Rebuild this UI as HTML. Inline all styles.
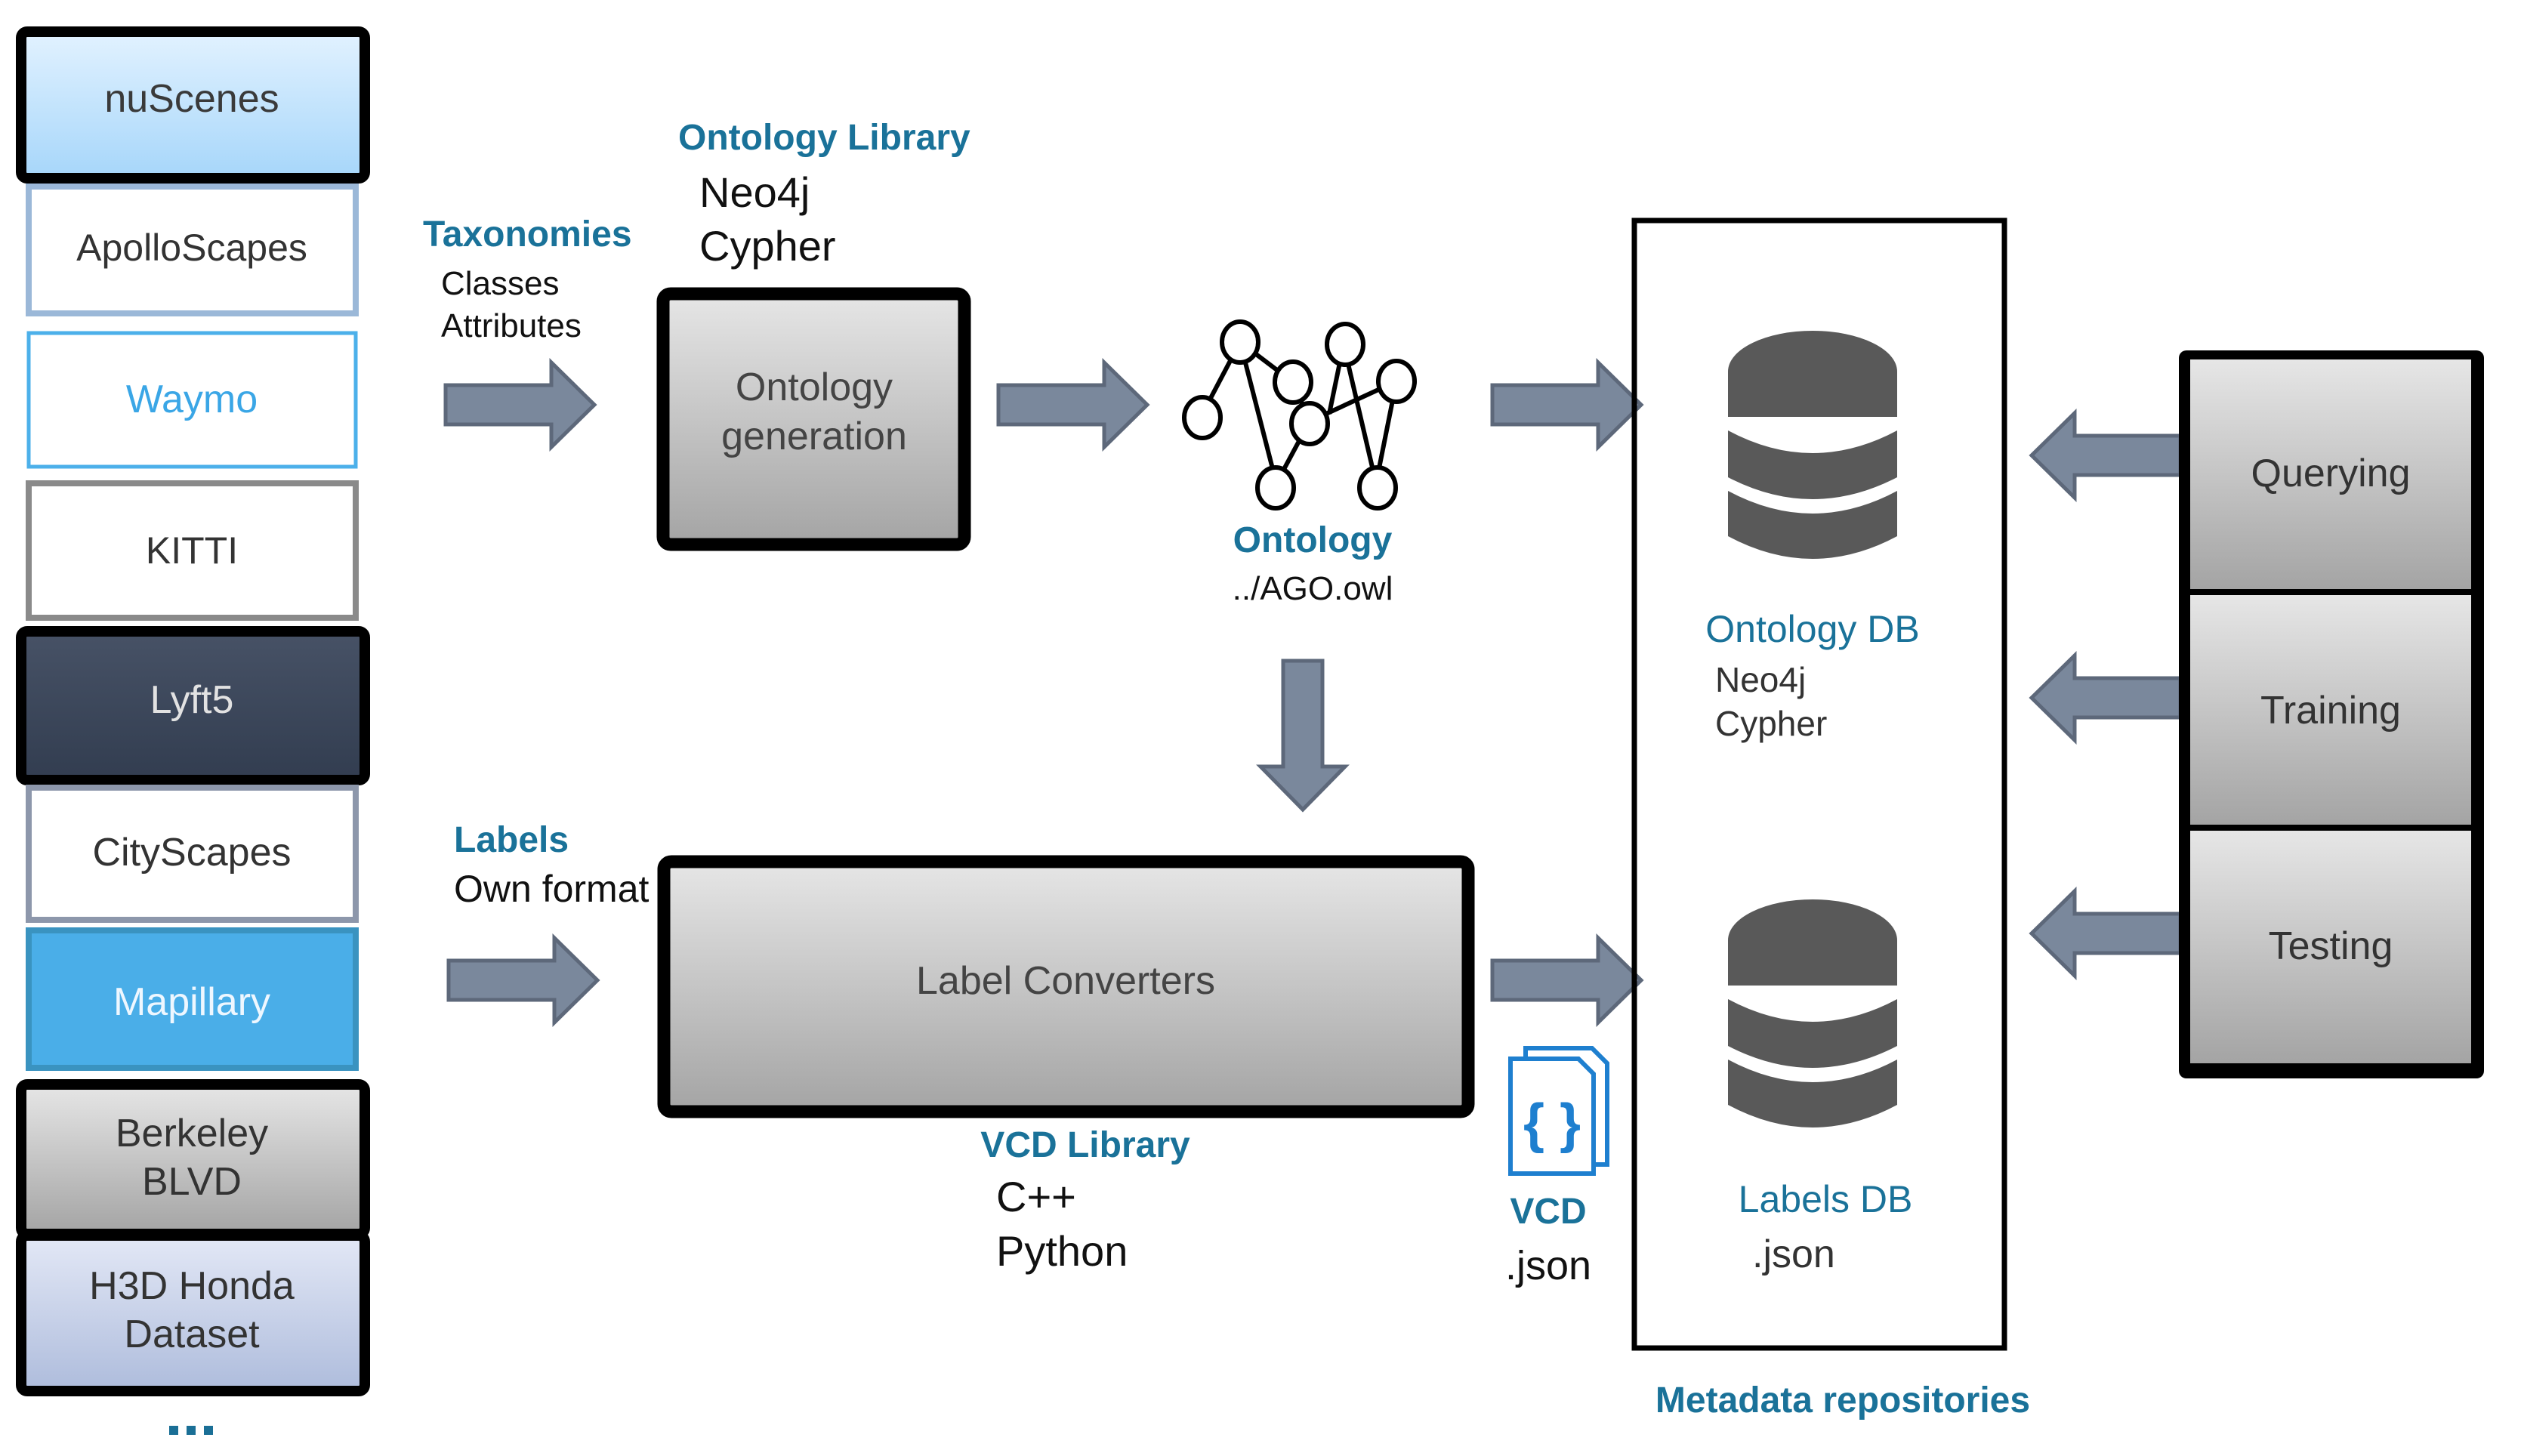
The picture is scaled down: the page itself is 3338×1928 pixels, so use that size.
<!DOCTYPE html>
<html><head><meta charset="utf-8"><style>
html,body{margin:0;padding:0;background:#fff;}
svg{display:block;}
text{font-family:"Liberation Sans","DejaVu Sans",sans-serif;}
</style></head><body>
<svg width="3338" height="1928" viewBox="0 0 3338 1928" xmlns="http://www.w3.org/2000/svg">
<defs>
<linearGradient id="gBlue" x1="0" y1="0" x2="0" y2="1"><stop offset="0" stop-color="#e2f2ff"/><stop offset="1" stop-color="#a6d6fa"/></linearGradient>
<linearGradient id="gDark" x1="0" y1="0" x2="0" y2="1"><stop offset="0" stop-color="#475266"/><stop offset="1" stop-color="#323d50"/></linearGradient>
<linearGradient id="gGray" x1="0" y1="0" x2="0" y2="1"><stop offset="0" stop-color="#e6e6e6"/><stop offset="1" stop-color="#a4a4a4"/></linearGradient>
<linearGradient id="gLav" x1="0" y1="0" x2="0" y2="1"><stop offset="0" stop-color="#e3e8f6"/><stop offset="1" stop-color="#aebcdc"/></linearGradient>
<g id="arrR"><path d="M0,-26 L140,-26 L140,-56 L197,0 L140,56 L140,26 L0,26 Z" fill="#7a889c" stroke="#5d687a" stroke-width="5"/></g>
</defs>

<!-- left column -->
<rect x="28" y="42" width="455" height="194" rx="8" fill="url(#gBlue)" stroke="#000" stroke-width="14"/>
<text x="254" y="148" font-size="52" fill="#3a3a3a" text-anchor="middle">nuScenes</text>
<rect x="38" y="247" width="433" height="168" fill="#fff" stroke="#9bb8d8" stroke-width="8"/>
<text x="254" y="345" font-size="50" fill="#333" text-anchor="middle">ApolloScapes</text>
<rect x="38" y="441" width="433" height="177" fill="#fff" stroke="#4cb0ea" stroke-width="5"/>
<text x="254" y="546" font-size="52" fill="#3aa6e6" text-anchor="middle">Waymo</text>
<rect x="38" y="640" width="433" height="178" fill="#fff" stroke="#8a8a8a" stroke-width="8"/>
<text x="254" y="746" font-size="50" fill="#333" text-anchor="middle">KITTI</text>
<rect x="28" y="836" width="455" height="197" rx="8" fill="url(#gDark)" stroke="#000" stroke-width="14"/>
<text x="254" y="944" font-size="52" fill="#e2e2e2" text-anchor="middle">Lyft5</text>
<rect x="38" y="1043" width="433" height="175" fill="#fff" stroke="#8d97ab" stroke-width="8"/>
<text x="254" y="1146" font-size="52" fill="#333" text-anchor="middle">CityScapes</text>
<rect x="38" y="1232" width="433" height="182" fill="#4aaee8" stroke="#3a93c0" stroke-width="8"/>
<text x="254" y="1344" font-size="52" fill="#eef7ff" text-anchor="middle">Mapillary</text>
<rect x="28" y="1436" width="455" height="198" rx="8" fill="url(#gGray)" stroke="#000" stroke-width="14"/>
<text x="254" y="1518" font-size="52" fill="#333" text-anchor="middle">Berkeley</text>
<text x="254" y="1582" font-size="52" fill="#333" text-anchor="middle">BLVD</text>
<rect x="28" y="1636" width="455" height="206" rx="8" fill="url(#gLav)" stroke="#000" stroke-width="14"/>
<text x="254" y="1720" font-size="52" fill="#333" text-anchor="middle">H3D Honda</text>
<text x="254" y="1784" font-size="52" fill="#333" text-anchor="middle">Dataset</text>
<rect x="224" y="1888" width="12" height="12" fill="#1a6f96"/><rect x="247" y="1888" width="12" height="12" fill="#1a6f96"/><rect x="270" y="1888" width="12" height="12" fill="#1a6f96"/>

<!-- taxonomy labels -->
<text x="560" y="326" font-size="48" font-weight="bold" fill="#1a7299">Taxonomies</text>
<text x="584" y="390" font-size="44" fill="#111">Classes</text>
<text x="584" y="446" font-size="44" fill="#111">Attributes</text>
<text x="898" y="198" font-size="48" font-weight="bold" fill="#1a7299">Ontology Library</text>
<text x="926" y="274" font-size="56" fill="#111">Neo4j</text>
<text x="926" y="345" font-size="56" fill="#111">Cypher</text>

<!-- arrows -->
<use href="#arrR" x="590" y="536"/>
<use href="#arrR" x="1322" y="536"/>
<use href="#arrR" x="1976" y="536"/>
<use href="#arrR" x="594" y="1298"/>
<use href="#arrR" x="1976" y="1298"/>
<use href="#arrR" transform="translate(1725,875) rotate(90)"/>
<use href="#arrR" transform="translate(2887,603) rotate(180)"/>
<use href="#arrR" transform="translate(2887,924) rotate(180)"/>
<use href="#arrR" transform="translate(2887,1236) rotate(180)"/>

<!-- ontology generation -->
<rect x="878" y="389" width="399" height="332" rx="10" fill="url(#gGray)" stroke="#000" stroke-width="17"/>
<text x="1078" y="530" font-size="52" fill="#444" text-anchor="middle">Ontology</text>
<text x="1078" y="595" font-size="52" fill="#444" text-anchor="middle">generation</text>

<!-- ontology graph -->
<g stroke="#000" stroke-width="6" fill="#fff">
<line x1="1642" y1="453" x2="1592" y2="548"/>
<line x1="1642" y1="453" x2="1690" y2="640"/>
<line x1="1642" y1="453" x2="1712" y2="506"/>
<line x1="1712" y1="506" x2="1734" y2="558"/>
<line x1="1734" y1="558" x2="1690" y2="640"/>
<line x1="1734" y1="558" x2="1849" y2="505"/>
<line x1="1779" y1="456" x2="1822" y2="640"/>
<line x1="1849" y1="505" x2="1822" y2="640"/>
<line x1="1779" y1="456" x2="1760" y2="548"/>
<ellipse cx="1642" cy="453" rx="24" ry="27"/>
<ellipse cx="1592" cy="553" rx="24" ry="27"/>
<ellipse cx="1712" cy="506" rx="24" ry="27"/>
<ellipse cx="1734" cy="561" rx="24" ry="27"/>
<ellipse cx="1781" cy="456" rx="24" ry="27"/>
<ellipse cx="1849" cy="505" rx="24" ry="27"/>
<ellipse cx="1689" cy="646" rx="24" ry="27"/>
<ellipse cx="1824" cy="646" rx="24" ry="27"/>
</g>
<text x="1738" y="731" font-size="48" font-weight="bold" fill="#1a7299" text-anchor="middle">Ontology</text>
<text x="1738" y="794" font-size="44" fill="#111" text-anchor="middle">../AGO.owl</text>

<!-- labels -->
<text x="601" y="1128" font-size="48" font-weight="bold" fill="#1a7299">Labels</text>
<text x="601" y="1194" font-size="50" fill="#111">Own format</text>
<rect x="879" y="1141" width="1065" height="331" rx="10" fill="url(#gGray)" stroke="#000" stroke-width="17"/>
<text x="1411" y="1316" font-size="52" fill="#444" text-anchor="middle">Label Converters</text>
<text x="1437" y="1532" font-size="48" font-weight="bold" fill="#1a7299" text-anchor="middle">VCD Library</text>
<text x="1319" y="1604" font-size="56" fill="#111">C++</text>
<text x="1319" y="1676" font-size="56" fill="#111">Python</text>

<!-- VCD icon -->
<g fill="#fff" stroke="#1e7fcf" stroke-width="6">
<path d="M2020,1388 L2108,1388 L2128,1408 L2128,1542 L2020,1542 Z"/>
<path d="M2000,1402 L2090,1402 L2110,1422 L2110,1554 L2000,1554 Z"/>
</g>
<text x="2055" y="1512" font-size="72" font-weight="bold" fill="#1e7fcf" text-anchor="middle">{ }</text>
<text x="2050" y="1620" font-size="48" font-weight="bold" fill="#1a7299" text-anchor="middle">VCD</text>
<text x="2050" y="1694" font-size="54" fill="#111" text-anchor="middle">.json</text>

<!-- metadata -->
<rect x="2164" y="292" width="490" height="1493" fill="none" stroke="#000" stroke-width="7"/>
<g fill="#595959">
<ellipse cx="2400" cy="492" rx="112" ry="54"/>
<rect x="2288" y="492" width="224" height="60"/>
<path d="M2288,570 Q2400,630 2512,570 L2512,632 Q2400,690 2288,632 Z"/>
<path d="M2288,650 Q2400,710 2512,650 L2512,710 Q2400,770 2288,710 Z"/>
<ellipse cx="2400" cy="1245" rx="112" ry="54"/>
<rect x="2288" y="1245" width="224" height="60"/>
<path d="M2288,1323 Q2400,1383 2512,1323 L2512,1385 Q2400,1443 2288,1385 Z"/>
<path d="M2288,1403 Q2400,1463 2512,1403 L2512,1463 Q2400,1523 2288,1463 Z"/>
</g>
<text x="2400" y="850" font-size="50" fill="#1a7299" text-anchor="middle">Ontology DB</text>
<text x="2271" y="916" font-size="46" fill="#333">Neo4j</text>
<text x="2271" y="974" font-size="46" fill="#333">Cypher</text>
<text x="2417" y="1605" font-size="50" fill="#1a7299" text-anchor="middle">Labels DB</text>
<text x="2320" y="1678" font-size="52" fill="#333">.json</text>
<text x="2440" y="1870" font-size="48" font-weight="bold" fill="#1a7299" text-anchor="middle">Metadata repositories</text>

<!-- right column -->
<rect x="2885" y="464" width="404" height="964" rx="10" fill="#000"/>
<rect x="2900" y="476" width="372" height="304" fill="url(#gGray)"/>
<rect x="2900" y="788" width="372" height="304" fill="url(#gGray)"/>
<rect x="2900" y="1100" width="372" height="308" fill="url(#gGray)"/>
<text x="3086" y="644" font-size="52" fill="#333" text-anchor="middle">Querying</text>
<text x="3086" y="958" font-size="52" fill="#333" text-anchor="middle">Training</text>
<text x="3086" y="1270" font-size="52" fill="#333" text-anchor="middle">Testing</text>
</svg>
</body></html>
